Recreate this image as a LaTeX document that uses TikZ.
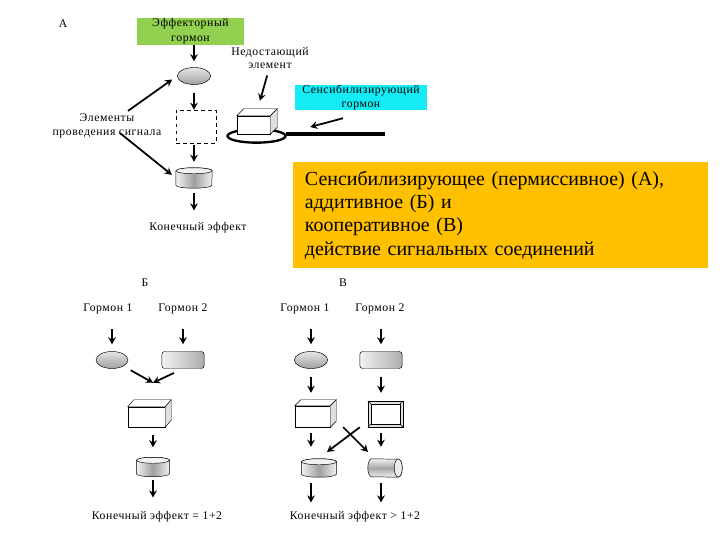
\documentclass[tikz,border=0pt]{standalone}
\usepackage{fontspec}
\setmainfont{Liberation Serif}
\newfontfamily\lblfont[LetterSpace=5]{Liberation Serif}
\usetikzlibrary{arrows.meta,shapes.geometric,calc}
\definecolor{hgreen}{RGB}{146,208,80}
\definecolor{hcyan}{RGB}{20,235,245}
\definecolor{horange}{RGB}{255,192,0}

\begin{document}
\begin{tikzpicture}[x=0.03cm,y=-0.03cm,
  lbl/.style={font=\lblfont\fontsize{10}{11.5}\selectfont,align=center,inner sep=0pt},
  arr/.style={line width=1.5pt,-{Stealth[length=6pt,width=6.5pt]}},
  hin/.style={arr,shorten <=0.45cm,shorten >=0.21cm},
  ell/.style={ellipse,draw,minimum width=1cm,minimum height=0.51cm,inner sep=0pt,top color=gray!20,bottom color=gray!75},
  bar/.style={draw,rounded corners=2.5pt,minimum width=1.27cm,minimum height=0.51cm,inner sep=0pt,left color=gray!10,right color=gray!65},
  drum/.style={minimum width=1.05cm,minimum height=0.57cm,inner sep=0pt},
  front/.style={draw,fill=white,minimum width=1.05cm,minimum height=0.6cm,inner sep=0pt},
  big/.style={fill=horange,text width=11.73cm,inner xsep=0.36cm,minimum height=3.18cm,align=left,font=\fontsize{17}{20}\selectfont}]
\useasboundingbox (0,0) rectangle (720,540);

% A
\node[lbl] (ta) at (63,24) {А};
\node[lbl,fill=hgreen,minimum width=3.21cm,minimum height=0.81cm] (effh) at (190.5,31.5) {Эффекторный\\[1pt]гормон};
\node[ell] (ae) at (194,76) {};
\node[draw,dashed,minimum width=1.2cm,minimum height=0.99cm] (ad) at (196,126.5) {};
\node[drum,minimum width=1.08cm,minimum height=0.6cm] (ac) at (194,178) {};
\node[lbl] (aeff) at (198,228) {Конечный эффект};
\node[lbl] (miss) at (270,58) {Недостающий\\элемент};
\node[lbl,fill=hcyan,minimum width=3.96cm,minimum height=0.75cm] (sens) at (361,97.5) {Сенсибилизирующий\\гормон};
\node[lbl] (elem) at (107,126) {Элементы\\проведения сигнала};
\draw[line width=2pt] (256.5,136) ellipse (0.87cm and 0.2cm);
\draw[line width=3.2pt] (286,134) -- (385,134);
\node[front,minimum width=0.99cm,minimum height=0.54cm] (ca) at (253.5,125) {};

\draw[arr,shorten >=0.18cm] (effh.south -| ae) -- (ae.north);
\draw[arr,shorten <=0.24cm] (ae.south) -- (ae |- ad.north);
\draw[arr,shorten <=0.06cm,shorten >=0.18cm] (ae |- ad.south) -- (ac.north);
\draw[arr,shorten <=0.15cm,shorten >=0.36cm] (ac.south) -- (ac |- aeff.north);
\draw[arr,shorten <=0.2cm] ($(miss.south)+(-1,0)$) -- ($(ca.north)+(6.5,-15)$);
\draw[arr] ($(sens.south)+(-18,8)$) -- ($(ca.east)+(40,2)$);
\draw[arr,shorten >=0.18cm] ($(elem.north)+(21,-3)$) -- (ae.west);
\draw[arr,shorten >=0.15cm] ($(elem.south)+(13,-5)$) -- (ac.west);

\node[big] (sum) at (500.5,215) {Сенсибилизирующее (пермиссивное) (А),\\аддитивное (Б) и\\кооперативное (В)\\действие сигнальных соединений};

% Б
\node[lbl] (tb) at (145,283) {Б};
\node[lbl] (g1) at (108,309) {Гормон 1};
\node[lbl] (g2) at (183,309) {Гормон 2};
\node[ell,minimum width=0.96cm] (be) at (112,360) {};
\node[bar] (br) at (183,360) {};
\node[front,minimum width=1.11cm] (cb) at (146.5,417) {};
\node[drum,minimum width=0.99cm] (bd) at (153,467) {};
\node[lbl] (beff) at (157,517) {Конечный эффект = 1+2};
\coordinate (bm) at ($(cb.north)+(6.5,-24)$);

\draw[hin] (be |- g1.south) -- (be.north);
\draw[hin] (br |- g2.south) -- (br.north);
\draw[arr,shorten <=0.25cm] (be.south east) -- (bm);
\draw[arr,shorten <=0.3cm] (br.south) -- (bm);
\draw[arr,shorten <=0.24cm,shorten >=0.3cm] (bd |- cb.south) -- (bd.north);
\draw[arr,shorten <=0.09cm,shorten >=0.42cm] (bd.south) -- (bd |- beff.north);

% В
\node[lbl] (tv) at (343,283) {В};
\node[lbl] (g3) at (305,309) {Гормон 1};
\node[lbl] (g4) at (380,309) {Гормон 2};
\node[ell] (ve) at (311,360) {};
\node[bar] (vr) at (381,360) {};
\node[front,minimum height=0.63cm] (cc) at (312.5,416.5) {};
\node[draw,fill=gray!25,minimum width=1.05cm,minimum height=0.78cm,inner sep=0pt] (vb) at (385.5,414) {};
\node[drum,minimum height=0.54cm] (vd) at (319,468) {};
\node[minimum width=1.02cm,minimum height=0.54cm,inner sep=0pt] (vy) at (385,468) {};
\node[lbl] (veff) at (355,517) {Конечный эффект > 1+2};

\draw[fill=white] ($(vb.north west)+(3,3)$) rectangle ($(vb.south east)+(-3,-3)$);
\foreach \p/\sx/\sy in {north west/3/3,north east/-3/3,south west/3/-3,south east/-3/-3}
  \draw (vb.\p) -- ++(\sx,\sy);

\draw[hin] (ve |- g3.south) -- (ve.north);
\draw[hin] (vr |- g4.south) -- (vr.north);
\draw[arr,shorten <=0.24cm,shorten >=0.39cm] (ve.south) -- (ve |- cc.north);
\draw[arr,shorten <=0.24cm,shorten >=0.24cm] (vr.south) -- (vr |- vb.north);
\draw[arr,shorten <=0.18cm,shorten >=0.36cm] (ve |- cc.south) -- (ve |- vd.north);
\draw[arr,shorten <=0.18cm,shorten >=0.36cm] (vr |- vb.south) -- (vr |- vy.north);
\draw[arr] ($(vb.south west)+(-8,0)$) -- ($(vd.center)+(8,-16)$);
\draw[arr] ($(cc.south east)+(13,0)$) -- ($(vy.center)+(-17,-16)$);
\draw[arr,shorten <=0.18cm,shorten >=0.27cm] (ve |- vd.south) -- (ve |- veff.north);
\draw[arr,shorten <=0.18cm,shorten >=0.27cm] (vr |- vy.south) -- (vr |- veff.north);

% cuboid tops and sides
\foreach \c/\dx/\dy in {ca/7/-7,cb/6/-7,cc/6/-6} {
  \draw[fill=white] (\c.north west) -- ++(\dx,\dy) -- ($(\c.north east)+(\dx,\dy)$) -- (\c.north east) -- cycle;
  \draw[fill=gray!25] (\c.north east) -- ++(\dx,\dy) -- ($(\c.south east)+(\dx,\dy)$) -- (\c.south east) -- cycle;
}

% drums
\foreach \d/\w in {ac/18,bd/16.5,vd/17.5} {
  \draw[left color=gray!10,right color=gray!10,middle color=gray!75]
    ($(\d.north west)+(0,3)$) -- ($(\d.south west)+(0,-3)$)
    arc[start angle=180,end angle=0,x radius=\w,y radius=3]
    -- ($(\d.north east)+(0,3)$)
    arc[start angle=0,end angle=-180,x radius=\w,y radius=3] -- cycle;
  \draw[fill=gray!10] ($(\d.north)+(0,3)$) ellipse [x radius=\w,y radius=3];
}

% lying cylinder
\draw[top color=gray!10,bottom color=gray!10,middle color=gray!70]
  ($(vy.north west)+(4,0)$) arc[start angle=270,end angle=90,x radius=4,y radius=9]
  -- ($(vy.south east)+(-4,0)$)
  arc[start angle=90,end angle=-90,x radius=4,y radius=9] -- cycle;
\draw[fill=gray!15] ($(vy.east)+(-4,0)$) ellipse [x radius=4,y radius=9];
\end{tikzpicture}
\end{document}
